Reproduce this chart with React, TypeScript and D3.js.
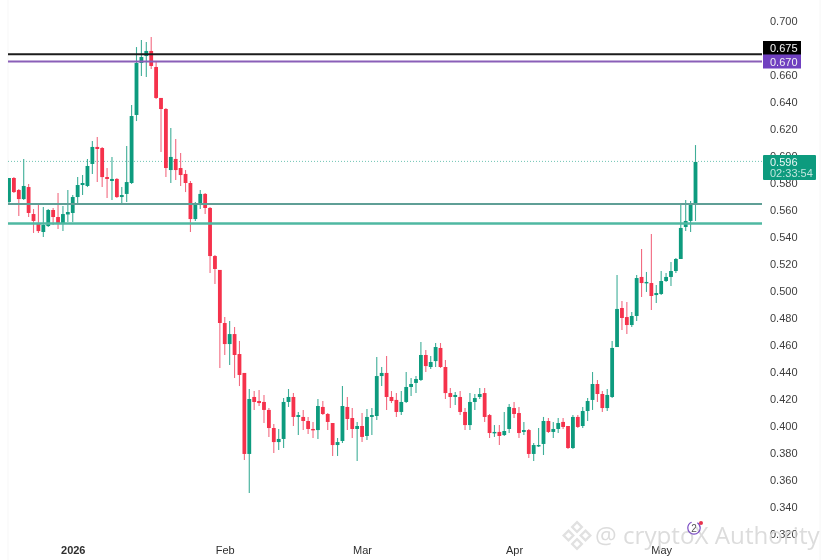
import React, { useEffect, useRef } from "react";
import * as d3 from "d3";

const firstDay = new Date(Date.UTC(2025, 11, 19));

const opens = [
  0.5659, 0.5837, 0.5748, 0.5681, 0.577, 0.557, 0.5504, 0.5437, 0.5481, 0.56,
  0.5548, 0.5496, 0.5567, 0.5578, 0.5696, 0.5785, 0.5778, 0.5941, 0.6067, 0.6059,
  0.5844, 0.5815, 0.583, 0.5696, 0.5719, 0.58, 0.6304, 0.6689, 0.6741, 0.6778,
  0.6659, 0.643, 0.6348, 0.5896, 0.5978, 0.5911, 0.5867, 0.58, 0.5533, 0.5637,
  0.5719, 0.5615, 0.5259, 0.5156, 0.4763, 0.4607, 0.4681, 0.4533, 0.4393, 0.3793,
  0.4215, 0.4185, 0.4178, 0.4119, 0.3985, 0.3881, 0.3904, 0.4178, 0.4215, 0.4067,
  0.4067, 0.4037, 0.3978, 0.397, 0.4141, 0.4089, 0.4022, 0.3859, 0.3889, 0.4141,
  0.4059, 0.3978, 0.4, 0.3926, 0.4067, 0.4074, 0.437, 0.4393, 0.4215, 0.4193,
  0.4104, 0.4178, 0.4289, 0.4319, 0.4341, 0.4526, 0.4437, 0.4481, 0.4578, 0.4437,
  0.4244, 0.4215, 0.4215, 0.4104, 0.4007, 0.4178, 0.4215, 0.4244, 0.4081, 0.3948,
  0.3956, 0.3933, 0.3978, 0.4133, 0.4096, 0.3956, 0.397, 0.3793, 0.3852, 0.3867,
  0.4037, 0.3956, 0.3978, 0.403, 0.4, 0.3837, 0.4067, 0.4, 0.4111, 0.4193,
  0.4311, 0.4237, 0.4133, 0.4215, 0.4585, 0.4874, 0.4807, 0.4748, 0.4815, 0.5104,
  0.5059, 0.5059, 0.497, 0.4978, 0.5074, 0.5104, 0.5148, 0.5237, 0.5474, 0.5519, 0.5644,
];

const highs = [
  0.5837, 0.5844, 0.5756, 0.5978, 0.5793, 0.5607, 0.5637, 0.5622, 0.5607, 0.5615,
  0.5726, 0.563, 0.5748, 0.5711, 0.5844, 0.5859, 0.5978, 0.6111, 0.6141, 0.6067,
  0.5911, 0.5993, 0.5837, 0.577, 0.6074, 0.6378, 0.6807, 0.6859, 0.6844, 0.6881,
  0.6704, 0.643, 0.6356, 0.6207, 0.6126, 0.6022, 0.5896, 0.5815, 0.5659, 0.5748,
  0.5726, 0.5622, 0.5267, 0.5156, 0.4807, 0.4778, 0.4733, 0.463, 0.4393, 0.4274,
  0.4259, 0.4267, 0.423, 0.4133, 0.4015, 0.3978, 0.4207, 0.4274, 0.4244, 0.4104,
  0.4119, 0.4067, 0.403, 0.42, 0.4185, 0.4096, 0.4022, 0.3911, 0.4296, 0.4215,
  0.4133, 0.403, 0.4096, 0.4126, 0.4133, 0.4511, 0.4437, 0.4519, 0.4259, 0.4244,
  0.4259, 0.44, 0.4356, 0.437, 0.4622, 0.4563, 0.4519, 0.4615, 0.4615, 0.4489,
  0.4281, 0.4252, 0.4259, 0.4133, 0.4244, 0.4237, 0.4281, 0.4281, 0.4089, 0.4007,
  0.4007, 0.4104, 0.4163, 0.4178, 0.4141, 0.403, 0.3978, 0.3874, 0.3985, 0.4067,
  0.4059, 0.403, 0.4059, 0.4059, 0.4, 0.4081, 0.4081, 0.4141, 0.4207, 0.44,
  0.4341, 0.4259, 0.4274, 0.463, 0.5119, 0.4926, 0.4919, 0.4844, 0.5119, 0.5311,
  0.5141, 0.5422, 0.5044, 0.5148, 0.5133, 0.5215, 0.5244, 0.5652, 0.5674, 0.5667, 0.6081,
];

const lows = [
  0.5644, 0.5726, 0.5556, 0.5674, 0.5548, 0.543, 0.543, 0.54, 0.5474, 0.5489,
  0.5459, 0.5444, 0.5511, 0.5511, 0.5644, 0.5711, 0.577, 0.5867, 0.5807, 0.577,
  0.5689, 0.5674, 0.5689, 0.5637, 0.5659, 0.5793, 0.6259, 0.6593, 0.6585, 0.6644,
  0.6422, 0.603, 0.5844, 0.58, 0.5822, 0.5778, 0.5733, 0.5437, 0.5519, 0.5607,
  0.557, 0.5133, 0.5052, 0.443, 0.4526, 0.4452, 0.4356, 0.4296, 0.3748, 0.3504,
  0.4119, 0.4148, 0.4022, 0.3919, 0.38, 0.3822, 0.3837, 0.4141, 0.4, 0.3933,
  0.397, 0.3941, 0.3911, 0.3904, 0.4081, 0.397, 0.3778, 0.3778, 0.3874, 0.397,
  0.3911, 0.3741, 0.3881, 0.3896, 0.3933, 0.4044, 0.4296, 0.4119, 0.417, 0.4067,
  0.4081, 0.417, 0.4222, 0.4244, 0.4333, 0.44, 0.4422, 0.4437, 0.443, 0.42,
  0.4133, 0.4156, 0.4081, 0.397, 0.397, 0.4119, 0.42, 0.403, 0.3911, 0.3919,
  0.3859, 0.3926, 0.3948, 0.4059, 0.3911, 0.3933, 0.3763, 0.3741, 0.3844, 0.3785,
  0.3948, 0.3911, 0.3948, 0.3978, 0.383, 0.383, 0.3985, 0.3985, 0.4037, 0.4119,
  0.4178, 0.4104, 0.4111, 0.4207, 0.4585, 0.4711, 0.4681, 0.4733, 0.4778, 0.4956,
  0.4993, 0.4859, 0.4911, 0.497, 0.5067, 0.5037, 0.5133, 0.5237, 0.5444, 0.5437, 0.5519,
];

const closes = [
  0.5837, 0.5733, 0.5681, 0.5778, 0.5578, 0.5519, 0.5444, 0.5489, 0.56, 0.5548,
  0.5496, 0.557, 0.5585, 0.5696, 0.5785, 0.58, 0.5926, 0.6067, 0.6052, 0.5844,
  0.583, 0.583, 0.5696, 0.5711, 0.5807, 0.6296, 0.6689, 0.6733, 0.6778, 0.6667,
  0.643, 0.6348, 0.5911, 0.5993, 0.5896, 0.5859, 0.58, 0.5533, 0.5644, 0.5719,
  0.5615, 0.5259, 0.5163, 0.4763, 0.4607, 0.4681, 0.4526, 0.4378, 0.3793, 0.42,
  0.4178, 0.417, 0.4119, 0.3985, 0.3881, 0.3904, 0.4178, 0.4215, 0.4067, 0.4081,
  0.4037, 0.3978, 0.397, 0.4148, 0.4089, 0.403, 0.3859, 0.3881, 0.4148, 0.4052,
  0.3978, 0.4, 0.3919, 0.4067, 0.4081, 0.437, 0.4393, 0.4215, 0.4185, 0.4104,
  0.4178, 0.4289, 0.4311, 0.4348, 0.4526, 0.4444, 0.4474, 0.4585, 0.4437, 0.4244,
  0.4215, 0.423, 0.4104, 0.4007, 0.4178, 0.4207, 0.4237, 0.4067, 0.3948, 0.3956,
  0.3926, 0.3963, 0.4141, 0.4089, 0.3948, 0.397, 0.3793, 0.3859, 0.3859, 0.4037,
  0.3956, 0.3978, 0.4022, 0.3993, 0.3837, 0.4067, 0.3993, 0.4111, 0.4185, 0.4311,
  0.4237, 0.4133, 0.423, 0.4578, 0.4867, 0.48, 0.4748, 0.4815, 0.5096, 0.5059,
  0.5067, 0.4963, 0.4985, 0.5074, 0.5104, 0.5148, 0.5237, 0.5467, 0.5519, 0.5644, 0.5956,
];

const priceTicks = [
  0.7, 0.68, 0.66, 0.64, 0.62, 0.6, 0.58, 0.56, 0.54, 0.52, 0.5, 0.48, 0.46, 0.44,
  0.42, 0.4, 0.38, 0.36, 0.34, 0.32,
];
const monthTicks = [
  new Date(Date.UTC(2026, 0, 1)),
  new Date(Date.UTC(2026, 1, 1)),
  new Date(Date.UTC(2026, 2, 1)),
  new Date(Date.UTC(2026, 3, 1)),
  new Date(Date.UTC(2026, 4, 1)),
];
const monthLabels = ["2026", "Feb", "Mar", "Apr", "May"];

// drawn levels: black / purple resistance, two teal supports
const blackLevel = 0.6754;
const purpleLevel = 0.67;
const tealLevels = [0.5644, 0.55];
const lastPrice = 0.596;
const countdown = "02:33:54";

const UP = "#0b9b7e";
const DOWN = "#f5304b";
const UP_WICK = "#3fae98";
const DOWN_WICK = "#f26a80";
const FONT = "'Liberation Sans', Arial, sans-serif";

export default function App() {
  const svgRef = useRef<SVGSVGElement | null>(null);

  useEffect(() => {
    const svg = d3.select(svgRef.current);
    svg.selectAll("*").remove();

    const dates = opens.map((_, i) => d3.utcDay.offset(firstDay, i));
    const x = d3
      .scaleUtc()
      .domain([firstDay, dates[dates.length - 1]])
      .range([9, 695.5]);
    const y = d3.scaleLinear().domain([0.34, 0.7]).range([507, 21]);

    const defs = svg.append("defs");
    defs
      .append("filter")
      .attr("id", "soft")
      .append("feGaussianBlur")
      .attr("stdDeviation", 0.4);
    defs
      .append("clipPath")
      .attr("id", "plot")
      .append("rect")
      .attr("x", 8)
      .attr("y", 0)
      .attr("width", 754)
      .attr("height", 560);

    const root = svg.append("g").attr("filter", "url(#soft)");

    // faint pane edges
    root.append("line").attr("x1", 8).attr("x2", 8).attr("y1", 0).attr("y2", 560).attr("stroke", "#f7f7f7");
    root.append("line").attr("x1", 820).attr("x2", 820).attr("y1", 0).attr("y2", 560).attr("stroke", "#f6f6f6");

    // axes
    const yAxis = d3
      .axisRight(y)
      .tickValues(priceTicks)
      .tickSize(0)
      .tickPadding(0)
      .tickFormat((d) => d3.format(".3f")(d as number));
    const yG = root.append("g").attr("transform", "translate(770,0)").call(yAxis);
    yG.select(".domain").remove();
    yG.selectAll("text").attr("font-family", FONT).attr("font-size", 11).attr("fill", "#3d3d3d");

    const xAxis = d3
      .axisBottom(x)
      .tickValues(monthTicks)
      .tickSize(0)
      .tickPadding(0)
      .tickFormat((_, i) => monthLabels[i]);
    const xG = root.append("g").attr("transform", "translate(0,546)").call(xAxis);
    xG.select(".domain").remove();
    xG.selectAll("text")
      .attr("font-family", FONT)
      .attr("font-size", 11)
      .attr("fill", "#2e2e2e")
      .attr("font-weight", (_, i) => (i === 0 ? 700 : 400));

    // dotted last price line, then levels
    const plot = root.append("g").attr("clip-path", "url(#plot)");
    plot
      .append("line")
      .attr("x1", 8)
      .attr("x2", 762)
      .attr("y1", y(lastPrice))
      .attr("y2", y(lastPrice))
      .attr("stroke", "#6fc4b3")
      .attr("stroke-dasharray", "1 2");

    // candles
    const candles = plot
      .selectAll("g.candle")
      .data(opens)
      .join("g")
      .attr("class", "candle");
    candles
      .append("line")
      .attr("x1", (_, i) => x(dates[i]))
      .attr("x2", (_, i) => x(dates[i]))
      .attr("y1", (_, i) => y(highs[i]))
      .attr("y2", (_, i) => y(lows[i]))
      .attr("stroke", (o, i) => (closes[i] >= o ? UP_WICK : DOWN_WICK))
      .attr("stroke-width", 1.1);
    candles
      .append("rect")
      .attr("x", (_, i) => x(dates[i]) - 1.9)
      .attr("width", 3.8)
      .attr("y", (o, i) => y(Math.max(o, closes[i])))
      .attr("height", (o, i) => Math.max(1.4, Math.abs(y(o) - y(closes[i]))))
      .attr("fill", (o, i) => (closes[i] >= o ? UP : DOWN));

    plot
      .selectAll("line.teal")
      .data(tealLevels)
      .join("line")
      .attr("class", "teal")
      .attr("x1", 8)
      .attr("x2", 762)
      .attr("y1", (d) => y(d))
      .attr("y2", (d) => y(d))
      .attr("stroke", (_, i) => (i === 0 ? "#5f9f96" : "#4fb8a2"))
      .attr("stroke-width", (_, i) => (i === 0 ? 2 : 2.4));
    plot
      .append("line")
      .attr("x1", 8)
      .attr("x2", 762)
      .attr("y1", y(blackLevel))
      .attr("y2", y(blackLevel))
      .attr("stroke", "#1c1c1c")
      .attr("stroke-width", 2);
    plot
      .append("line")
      .attr("x1", 8)
      .attr("x2", 762)
      .attr("y1", y(purpleLevel))
      .attr("y2", y(purpleLevel))
      .attr("stroke", "#8a5fb8")
      .attr("stroke-width", 2);

    // price tags
    const tag = (price: number, fill: string, cy: number) => {
      root.append("rect").attr("x", 763).attr("y", cy - 7).attr("width", 38).attr("height", 14).attr("fill", fill);
      root
        .append("text")
        .attr("x", 770)
        .attr("y", cy + 4)
        .attr("font-family", FONT)
        .attr("font-size", 11)
        .attr("fill", "#f2f2f2")
        .text(d3.format(".3f")(price));
    };
    tag(blackLevel, "#050505", 48);
    tag(purpleLevel, "#6f3fc0", y(purpleLevel));

    root.append("rect").attr("x", 763).attr("y", 155).attr("width", 53).attr("height", 25).attr("rx", 1).attr("fill", UP);
    root
      .append("text")
      .attr("x", 770)
      .attr("y", 166)
      .attr("font-family", FONT)
      .attr("font-size", 11)
      .attr("fill", "#eaf7f4")
      .text(d3.format(".3f")(lastPrice));
    root
      .append("text")
      .attr("x", 770)
      .attr("y", 177)
      .attr("font-family", FONT)
      .attr("font-size", 11)
      .attr("fill", "#bfe6dd")
      .text(countdown);

    // watermark
    const mark = root.append("g").attr("opacity", 0.9);
    const diamond = "M0,-6 L6,0 L0,6 L-6,0 Z";
    [
      [577, 527],
      [568.5, 535.5],
      [585.5, 535.5],
      [577, 544],
    ].forEach(([cx, cy]) => {
      mark
        .append("path")
        .attr("d", diamond)
        .attr("transform", `translate(${cx},${cy}) scale(0.8)`)
        .attr("fill", "none")
        .attr("stroke", "#dedede")
        .attr("stroke-width", 3);
    });
    mark
      .append("text")
      .attr("x", 595)
      .attr("y", 544)
      .attr("font-family", "'Open Sans', 'Noto Sans', sans-serif")
      .attr("font-size", 24.2)
      .attr("fill", "#d9d9d9")
      .text("@ cryptoX Authority");

    // small badge over the axis
    root
      .append("circle")
      .attr("cx", 694)
      .attr("cy", 528)
      .attr("r", 6.2)
      .attr("fill", "none")
      .attr("stroke", "#7b4cc4")
      .attr("stroke-width", 1.2)
      .attr("stroke-dasharray", "26 6");
    root
      .append("text")
      .attr("x", 694)
      .attr("y", 532)
      .attr("text-anchor", "middle")
      .attr("font-family", FONT)
      .attr("font-size", 10)
      .attr("fill", "#555")
      .text("2");
    root.append("circle").attr("cx", 701).attr("cy", 523).attr("r", 2).attr("fill", "#e8334d");
  }, []);

  return (
    <svg
      ref={svgRef}
      width={828}
      height={560}
      style={{ position: "absolute", left: 0, top: 0, background: "#fff" }}
    />
  );
}
